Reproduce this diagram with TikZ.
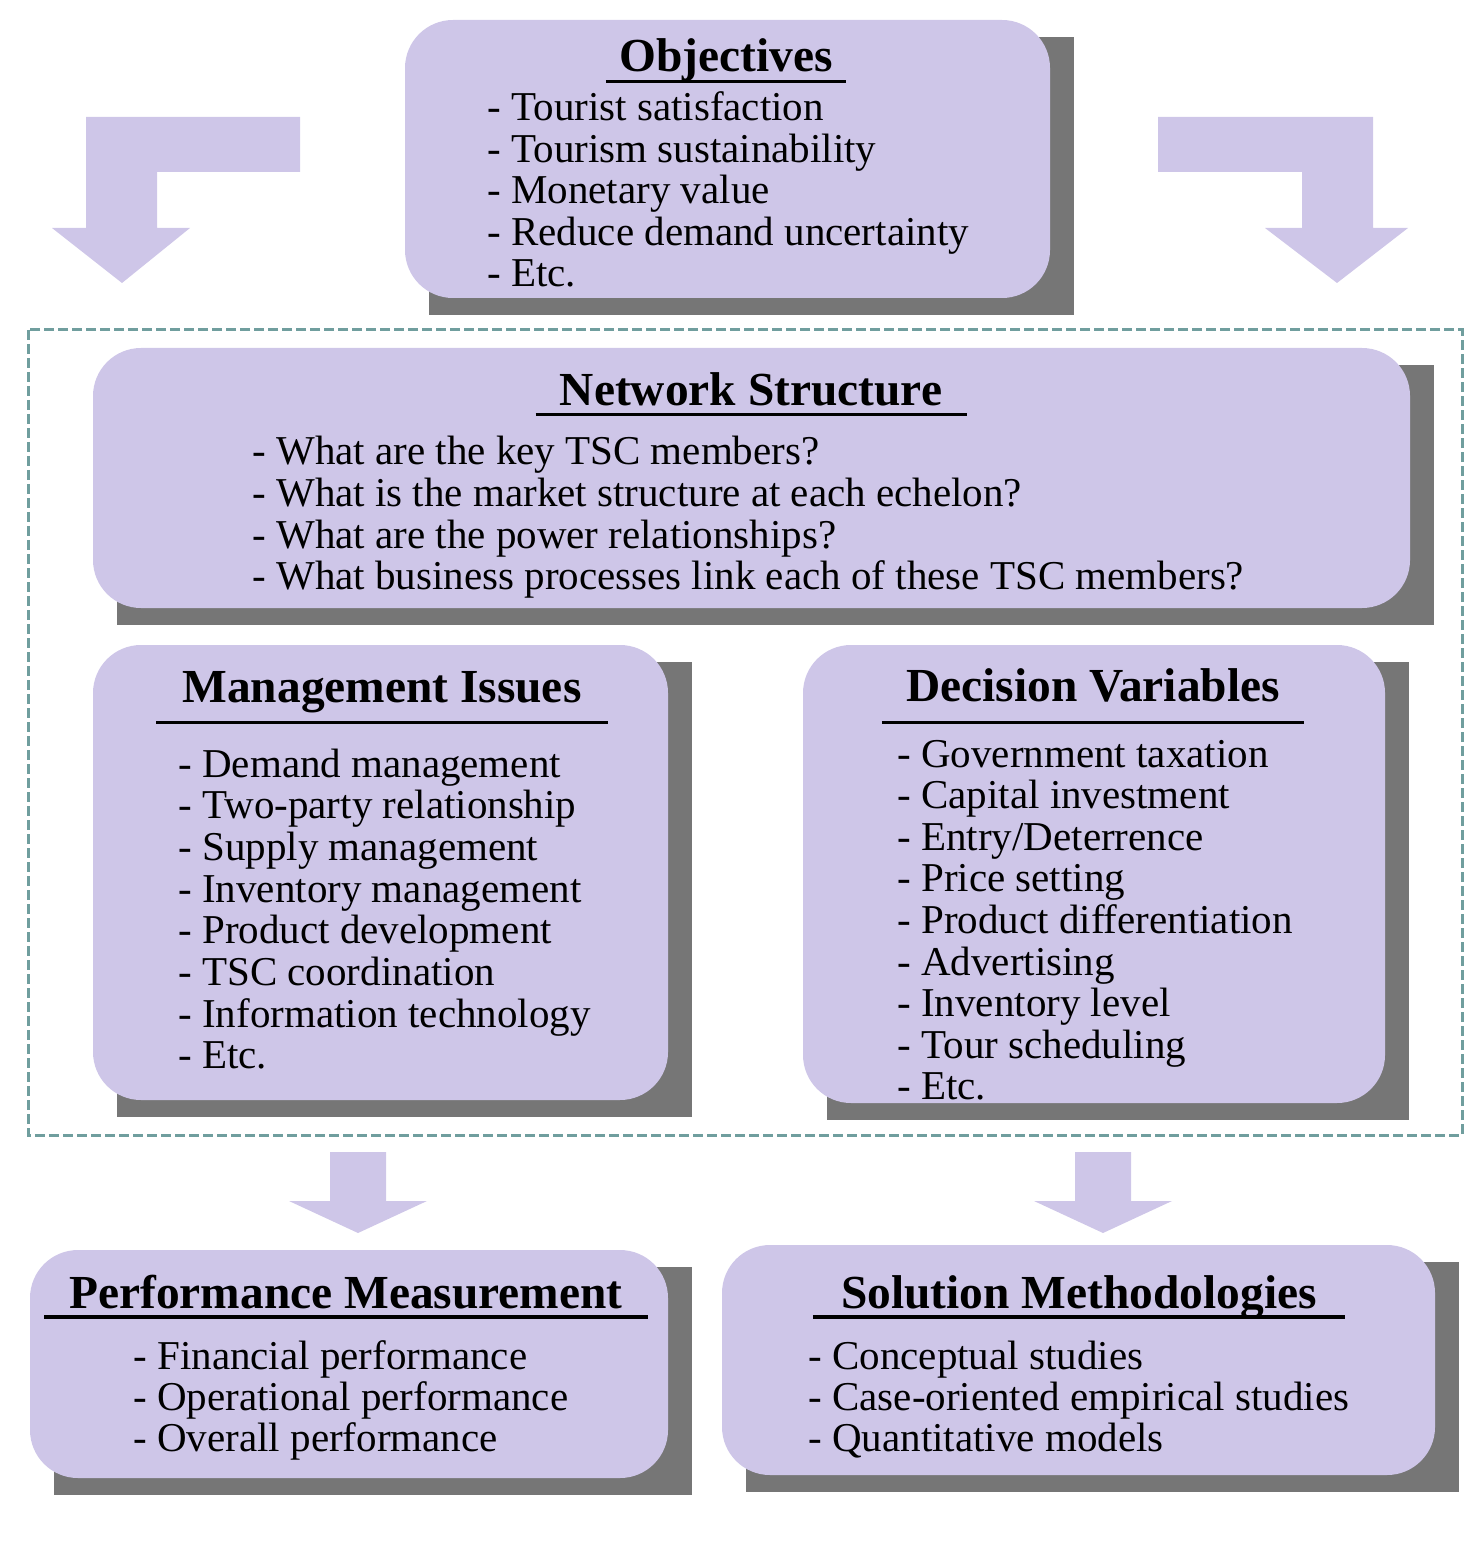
\documentclass[tikz,border=0pt]{standalone}
\usepackage{fontspec}
\setmainfont{Liberation Serif}
\usetikzlibrary{backgrounds}

\definecolor{lav}{RGB}{206,198,232}
\definecolor{dropgray}{RGB}{118,118,118}
\definecolor{framecol}{RGB}{112,158,158}

\begin{document}
\begin{tikzpicture}[
  x=0.5pt, y=-0.5pt,
  panel/.style={fill=lav,rounded corners=24pt,inner sep=0pt},
  ttl/.style={font=\fontsize{23.7}{26}\selectfont\bfseries,inner ysep=0pt,anchor=base},
  item/.style={font=\fontsize{20.5}{20.8}\selectfont,inner sep=0pt,anchor=base west},
  uline/.style={line width=1.8pt},
  drop/.style={fill=dropgray},
  arr/.style={fill=lav},
  dashframe/.style={draw=framecol,line width=1.5pt,dash pattern=on 5pt off 2pt},
]
\useasboundingbox (0,0) rectangle (1480,1550);

% ---- boxes ----
\node[panel,minimum width=322.5pt,minimum height=139pt] (obj) at (727.5,159) {};
\node[panel,minimum width=658.5pt,minimum height=130pt] (net) at (751.5,478) {};
\node[panel,minimum width=287.5pt,minimum height=227.5pt] (mi) at (380.5,872.5) {};
\node[panel,minimum width=291pt,minimum height=229pt] (dv) at (1094,874) {};
\node[panel,minimum width=319pt,minimum height=114pt] (pm) at (349,1364) {};
\node[panel,minimum width=356.5pt,minimum height=115pt] (sm) at (1078.5,1360) {};

% drop shadows
\begin{scope}[on background layer]
\foreach \n in {obj,net,mi,dv,pm,sm}
  \fill[drop] ([xshift=12pt,yshift=-8.5pt]\n.south west) rectangle ([xshift=12pt,yshift=-8.5pt]\n.north east);
\end{scope}

% ---- titles ----
\node[ttl,inner xsep=6.5pt] (obj-t) at (726,71.5) {Objectives};
\node[ttl,inner xsep=12pt] (net-t) at (751,405.5) {Network Structure};
\node[ttl,inner xsep=13pt] (mi-t) at (382,702.5) {Management Issues};
\node[ttl,inner xsep=12pt] (dv-t) at (1093,701.5) {Decision Variables};
\node[ttl,inner xsep=12.5pt] (pm-t) at (346,1308) {Performance Measurement};
\node[ttl,inner xsep=14pt] (sm-t) at (1079,1308) {Solution Methodologies};
\foreach \n/\d in {obj/5pt,net/4.5pt,mi/10pt,dv/10.5pt,pm/4.5pt,sm/4.5pt}
  \draw[uline] ([yshift=-\d]\n-t.base west) -- ([yshift=-\d]\n-t.base east);

% ---- lists ----
\foreach \t [count=\i from 0] in {Tourist satisfaction,Tourism sustainability,Monetary value,Reduce demand uncertainty,Etc.}
  \node[item] (obj-\i) at (487,121+41.5*\i) {- \t};
\foreach \t [count=\i from 0] in {What are the key TSC members?,What is the market structure at each echelon?,What are the power relationships?,What business processes link each of these TSC members?}
  \node[item] (net-\i) at (252,465+41.6*\i) {- \t};
\foreach \t [count=\i from 0] in {Demand management,Two-party relationship,Supply management,Inventory management,Product development,TSC coordination,Information technology,Etc.}
  \node[item] (mi-\i) at (178,777+41.7*\i) {- \t};
\foreach \t [count=\i from 0] in {Government taxation,Capital investment,Entry/Deterrence,Price setting,Product differentiation,Advertising,Inventory level,Tour scheduling,Etc.}
  \node[item] (dv-\i) at (897,767+41.6*\i) {- \t};
\foreach \t [count=\i from 0] in {Financial performance,Operational performance,Overall performance}
  \node[item] (pm-\i) at (133,1369+41*\i) {- \t};
\foreach \t [count=\i from 0] in {Conceptual studies,Case-oriented empirical studies,Quantitative models}
  \node[item] (sm-\i) at (808,1369+41*\i) {- \t};

% ---- dashed frame ----
\draw[dashframe] (28,330) rectangle (1462,1135);

% ---- block arrows ----
\fill[arr] (300,117) -- (86,117) -- (86,228) -- (52,228) -- (122,283) -- (190,228)
  -- (157,228) -- (157,172) -- (300,172) -- cycle;
\fill[arr] (1158,117) -- (1373,117) -- (1373,228) -- (1408,228) -- (1337,283) -- (1265,228)
  -- (1302,228) -- (1302,172) -- (1158,172) -- cycle;
\foreach \c in {358,1103}
  \fill[arr] (\c-28,1152) -- (\c+28,1152) -- (\c+28,1201) -- (\c+69,1201) -- (\c,1233)
    -- (\c-69,1201) -- (\c-28,1201) -- cycle;
\end{tikzpicture}
\end{document}
